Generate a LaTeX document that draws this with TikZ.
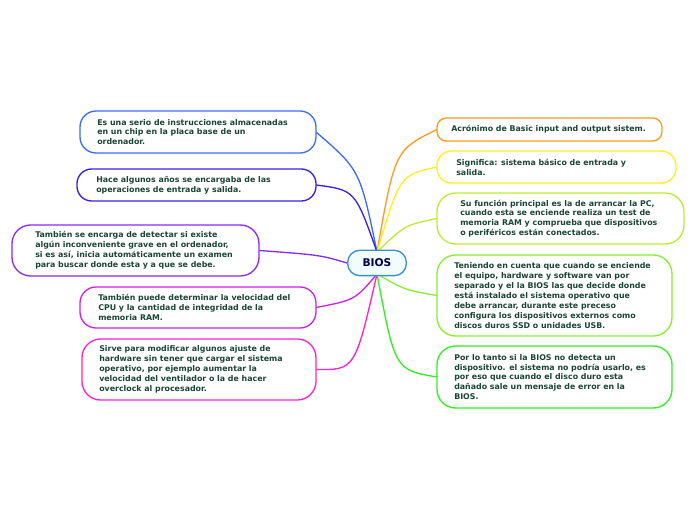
\documentclass[tikz,border=0pt]{standalone}
\usepackage{fontspec}
\setmainfont{DejaVu Sans}
\usetikzlibrary{backgrounds}
\definecolor{txt}{HTML}{1B4536}
\definecolor{cA}{HTML}{3D6BFF}
\definecolor{cB}{HTML}{3A22E0}
\definecolor{cC}{HTML}{8A2BF0}
\definecolor{cD}{HTML}{D020E8}
\definecolor{cE}{HTML}{FF22CC}
\definecolor{cF}{HTML}{FF9A22}
\definecolor{cG}{HTML}{FFEE22}
\definecolor{cH}{HTML}{BBEE33}
\definecolor{cI}{HTML}{88EE33}
\definecolor{cJ}{HTML}{33EE22}
\definecolor{cK}{HTML}{3A8FD0}
\tikzset{
  x=0.75pt,y=-0.75pt,
  con/.style={draw=#1,line width=1pt}
}
\newcommand{\bx}[9]{% name color x1 y1 x2 y2 textx radius text
  \path[draw=#2,line width=1pt,rounded corners=#8,fill=white] (#3,#4) rectangle (#5,#6);
  \node[anchor=west,align=left,text=txt,font=\fontsize{5.9}{7.4}\selectfont\bfseries,inner sep=0pt] (#1) at (#7,{(#4+#6)/2}) {#9};
  \coordinate (#1L) at (#3,{(#4+#6)/2});
  \coordinate (#1R) at (#5,{(#4+#6)/2});
}
\begin{document}
\begin{tikzpicture}
\useasboundingbox (0,0) rectangle (696,520);
\bx{l1}{cA}{80}{111}{316}{153}{97}{12pt}{Es una serio de instrucciones almacenadas\\en un chip en la placa base de un\\ordenador.}
\bx{l2}{cB}{77}{169}{316}{201}{96}{11pt}{Hace algunos años se encargaba de las\\operaciones de entrada y salida.}
\bx{l3}{cC}{12}{225}{259}{276}{35}{14pt}{También se encarga de detectar si existe\\algún inconveniente grave en el ordenador,\\si es así, inicia automáticamente un examen\\para buscar donde esta y a que se debe.}
\bx{l4}{cD}{80}{287}{316}{328}{98}{12pt}{También puede determinar la velocidad del\\CPU y la cantidad de integridad de la\\memoria RAM.}
\bx{l5}{cE}{82}{339}{316}{400}{99}{14pt}{Sirve para modificar algunos ajuste de\\hardware sin tener que cargar el sistema\\operativo, por ejemplo aumentar la\\velocidad del ventilador o la de hacer\\overclock al procesador.}
\bx{r1}{cF}{437}{118}{662}{141}{451}{7pt}{Acrónimo de Basic input and output sistem.}
\bx{r2}{cG}{437}{151}{676}{183}{456}{11pt}{Significa: sistema básico de entrada y\\salida.}
\bx{r3}{cH}{437}{193}{684}{244}{460}{14pt}{Su función principal es la de arrancar la PC,\\cuando esta se enciende realiza un test de\\memoria RAM y comprueba que dispositivos\\o periféricos están conectados.}
\bx{r4}{cI}{437}{255}{672}{336}{454}{14pt}{Teniendo en cuenta que cuando se enciende\\el equipo, hardware y software van por\\separado y el la BIOS las que decide donde\\está instalado el sistema operativo que\\debe arrancar, durante este preceso\\configura los dispositivos externos como\\discos duros SSD o unidades USB.}
\bx{r5}{cJ}{437}{346}{672}{408}{454}{14pt}{Por lo tanto si la BIOS no detecta un\\dispositivo. el sistema no podría usarlo, es\\por eso que cuando el disco duro esta\\dañado sale un mensaje de error en la\\BIOS.}
\node[draw=cK,line width=1pt,fill=cyan!5,rounded corners=9pt,minimum width=44pt,minimum height=19pt,
  text=blue!30!black,font=\fontsize{8}{9}\selectfont\bfseries] (bios) at (377,263) {BIOS};
\begin{scope}[on background layer]
\coordinate (bt) at (377,252);
\coordinate (bb) at (377,274);
\draw[con=cA] (bt) .. controls (360,170) .. (l1R);
\draw[con=cB] (bt) .. controls (355,190) .. (l2R);
\draw[con=cC] (bios.west) .. controls (320,255) .. (l3R);
\draw[con=cD] (bb) .. controls (355,300) .. (l4R);
\draw[con=cE] (bb) .. controls (355,370) .. (l5R);
\draw[con=cF] (bt) .. controls (395,150) .. (r1L);
\draw[con=cG] (bt) .. controls (400,175) .. (r2L);
\draw[con=cH] (bt) .. controls (405,225) .. (r3L);
\draw[con=cI] (bb) .. controls (405,290) .. (r4L);
\draw[con=cJ] (bb) .. controls (395,370) .. (r5L);
\end{scope}
\end{tikzpicture}
\end{document}
